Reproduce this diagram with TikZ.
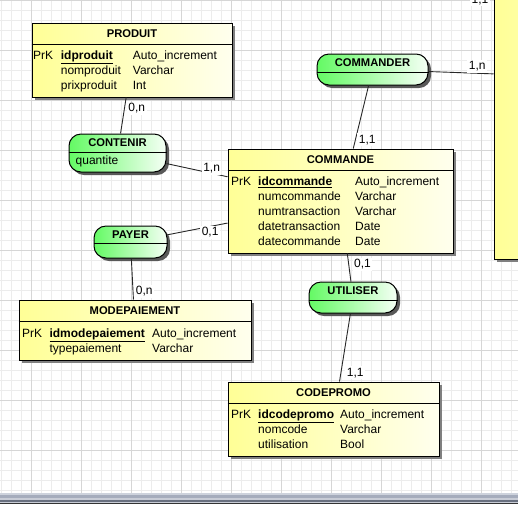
\documentclass[tikz,border=0pt]{standalone}
\usepackage{fontspec}
\setmainfont{Liberation Sans}
\usetikzlibrary{positioning,shadows}

\definecolor{entyellow}{RGB}{255,255,150}
\definecolor{entwhite}{RGB}{255,255,238}
\definecolor{relgreen}{RGB}{100,250,100}
\definecolor{relwhite}{RGB}{245,255,245}
\definecolor{gridminor}{RGB}{236,236,236}
\definecolor{gridmajor}{RGB}{214,214,214}
\definecolor{linkgray}{RGB}{40,40,40}
\definecolor{barlight}{RGB}{205,210,220}
\definecolor{barmid}{RGB}{165,172,188}
\definecolor{barpale}{RGB}{200,204,214}
\definecolor{bardark}{RGB}{105,112,128}

\newcommand{\attrfont}{\fontsize{12}{15}\selectfont}
\newcommand{\titlefont}{\fontsize{11.2}{13}\selectfont\bfseries}
\newcommand{\keyattr}[1]{\textbf{\underline{#1}}}
% fixed-width cell
\newcommand{\cell}[2]{\makebox[#1][l]{#2}}

\begin{document}
\begin{tikzpicture}[x=1pt, y=-1pt,
	entity/.style={draw, line width=1pt, inner sep=0pt, left color=entyellow, right color=entwhite,
		drop shadow={shadow xshift=3pt, shadow yshift=-3pt, fill=black!50, opacity=1}},
	relation/.style={draw, line width=1pt, inner sep=0pt, rounded corners=12pt, left color=relgreen, right color=relwhite,
		drop shadow={shadow xshift=3pt, shadow yshift=-3pt, fill=black!65, opacity=1}},
	enttitle/.style={inner sep=0pt, minimum height=21pt, font=\titlefont},
	reltitle/.style={inner sep=0pt, minimum height=18pt, font=\titlefont},
	attrs/.style={anchor=north west, inner sep=0pt, font=\attrfont},
	link/.style={draw=linkgray, line width=0.9pt},
	card/.style={fill=white, inner xsep=1.5pt, inner ysep=1.5pt, font=\attrfont}]
	\useasboundingbox (0,0) rectangle (518,504);
	\clip (0,0) rectangle (518,504);
	\fill[white] (0,0) rectangle (518,504);
	\draw[gridminor, line width=0.8pt, xshift=1pt] (-10,0) grid[step=10pt] (520,504);
	\draw[gridmajor, line width=0.8pt, xshift=31pt] (-50,0) grid[step=50pt] (500,504);

	% entities
	\node[entity, minimum width=200pt, minimum height=74pt] (produit) at (132,60) {};
	\node[enttitle, below=0pt of produit.north] (produit-t) {PRODUIT};
	\draw (produit-t.south -| produit.west) -- (produit-t.south -| produit.east);
	\node[attrs] (produit-a) at (33,48.5) {\begin{tabular}{@{}l@{}l@{}l@{}}
		\cell{27.7pt}{PrK} & \cell{72pt}{\keyattr{idproduit}} & Auto\_increment\\
		& nomproduit & Varchar\\
		& prixproduit & Int
	\end{tabular}};

	\node[entity, minimum width=225pt, minimum height=104pt] (commande) at (340.5,201) {};
	\node[enttitle, below=0pt of commande.north] (commande-t) {COMMANDE};
	\draw (commande-t.south -| commande.west) -- (commande-t.south -| commande.east);
	\node[attrs] (commande-a) at (231,174.5) {\begin{tabular}{@{}l@{}l@{}l@{}}
		\cell{27pt}{PrK} & \cell{97pt}{\keyattr{idcommande}} & Auto\_increment\\
		& numcommande & Varchar\\
		& numtransaction & Varchar\\
		& datetransaction & Date\\
		& datecommande & Date
	\end{tabular}};

	\node[entity, minimum width=232pt, minimum height=60pt] (modepaiement) at (135,330) {};
	\node[enttitle, below=0pt of modepaiement.north] (modepaiement-t) {MODEPAIEMENT};
	\draw (modepaiement-t.south -| modepaiement.west) -- (modepaiement-t.south -| modepaiement.east);
	\node[attrs] (modepaiement-a) at (22,326.5) {\begin{tabular}{@{}l@{}l@{}l@{}}
		\cell{27.3pt}{PrK} & \cell{102.7pt}{\keyattr{idmodepaiement}} & Auto\_increment\\
		& typepaiement & Varchar
	\end{tabular}};

	\node[entity, minimum width=211pt, minimum height=74pt] (codepromo) at (333.5,419) {};
	\node[enttitle, below=0pt of codepromo.north] (codepromo-t) {CODEPROMO};
	\draw (codepromo-t.south -| codepromo.west) -- (codepromo-t.south -| codepromo.east);
	\node[attrs] (codepromo-a) at (231,407.5) {\begin{tabular}{@{}l@{}l@{}l@{}}
		\cell{27pt}{PrK} & \cell{82pt}{\keyattr{idcodepromo}} & Auto\_increment\\
		& nomcode & Varchar\\
		& utilisation & Bool
	\end{tabular}};

	\node[entity, minimum width=200pt, minimum height=363pt] (client) at (594,77.5) {};

	% relations
	\node[relation, minimum width=97pt, minimum height=38pt] (contenir) at (117.5,153) {};
	\node[reltitle, below=0pt of contenir.north] (contenir-t) {CONTENIR};
	\draw (contenir-t.south -| contenir.west) -- (contenir-t.south -| contenir.east);
	\node[anchor=base west, inner sep=0pt, font=\attrfont] (contenir-a) at (75.5,164.4) {quantite};

	\node[relation, minimum width=111pt, minimum height=31pt] (commander) at (372.5,69.5) {};
	\node[reltitle, below=0pt of commander.north] (commander-t) {COMMANDER};
	\draw (commander-t.south -| commander.west) -- (commander-t.south -| commander.east);

	\node[relation, minimum width=73pt, minimum height=32pt] (payer) at (130.5,242) {};
	\node[reltitle, minimum height=17pt, below=0pt of payer.north] (payer-t) {PAYER};
	\draw (payer-t.south -| payer.west) -- (payer-t.south -| payer.east);

	\node[relation, minimum width=88pt, minimum height=31pt] (utiliser) at (353,297.5) {};
	\node[reltitle, below=0pt of utiliser.north] (utiliser-t) {UTILISER};
	\draw (utiliser-t.south -| utiliser.west) -- (utiliser-t.south -| utiliser.east);

	% links
	\draw[link] (produit) -- node[card, pos=0.3, right=2pt] {0,n} (contenir);
	\draw[link] (contenir) -- node[card, pos=0.74, yshift=5pt] {1,n} (commande);
	\draw[link] (payer) -- node[card, pos=0.71, below=-1pt] {0,1} (commande);
	\draw[link] (payer) -- node[card, pos=0.8, right=1pt] {0,n} (modepaiement);
	\draw[link] (commander) -- node[card, pos=0.86, right=1.5pt] {1,1} (commande);
	\draw[link] (commander) -- node[card, pos=0.75, above=0pt] {1,n} (client);
	\draw[link] (commande) -- node[card, pos=0.38, right=3.5pt] {0,1} (utiliser);
	\draw[link] (utiliser) -- node[card, pos=0.87, right=4pt] {1,1} (codepromo);
	\node[card, anchor=base west] (card-top) at (470,3) {1,1};

	% bottom bar
	\fill[barlight] (0,493) rectangle (518,494.5);
	\fill[barmid] (0,494.5) rectangle (518,498);
	\fill[barpale] (0,498) rectangle (518,499.5);
	\fill[bardark] (0,499.5) rectangle (518,501.5);
	\fill[barpale] (0,501.5) rectangle (518,502.5);
	\fill[black!80] (0,502.5) rectangle (518,504);
\end{tikzpicture}
\end{document}
